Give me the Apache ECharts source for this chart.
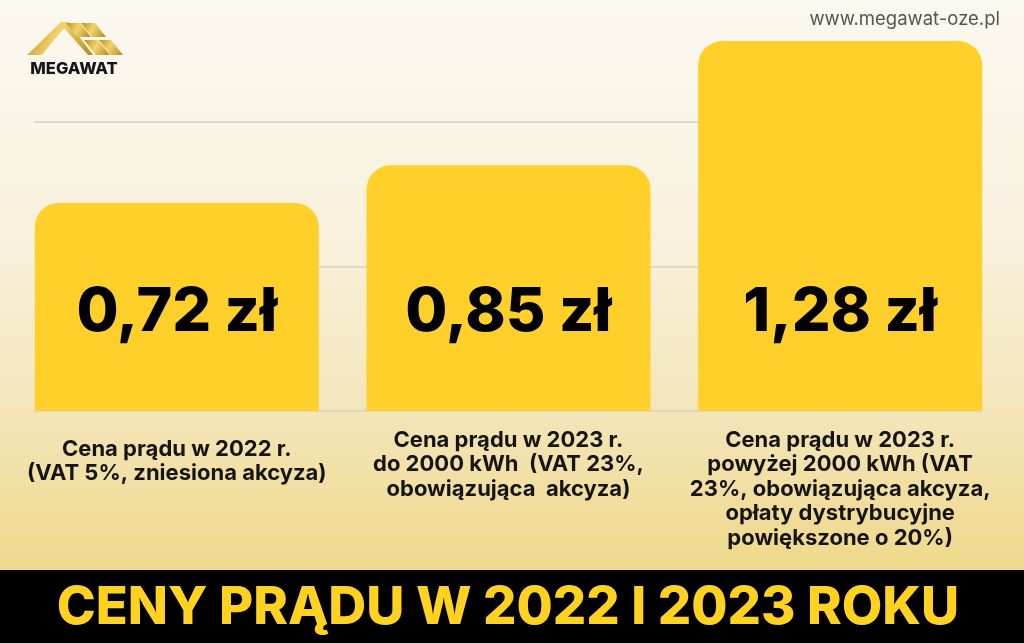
<!DOCTYPE html>
<html>
<head>
<meta charset="utf-8">
<script src="https://cdn.jsdelivr.net/npm/echarts@6/dist/echarts.min.js"></script>
<style>html,body{margin:0;padding:0;}#c{width:1024px;height:643px;}</style>
</head>
<body>
<div id="c"></div>
<script>
const categories = [
  'Cena prądu w 2022 r.\n(VAT 5%, zniesiona akcyza)',
  'Cena prądu w 2023 r.\ndo 2000 kWh  (VAT 23%,\nobowiązująca  akcyza)',
  'Cena prądu w 2023 r.\npowyżej 2000 kWh (VAT\n23%, obowiązująca akcyza,\nopłaty dystrybucyjne\npowiększone o 20%)'
];
const prices = [0.72, 0.85, 1.28];
const yTicks = [0, 0.5, 1.0];
const title = 'CENY PRĄDU W 2022 I 2023 ROKU';
const website = 'www.megawat-oze.pl';
const brand = 'MEGAWAT';

const chart = echarts.init(document.getElementById('c'), null, {renderer: 'canvas'});
const gold = new echarts.graphic.LinearGradient(0, 0, 1, 1, [
  {offset: 0, color: '#b8901c'}, {offset: 0.45, color: '#f2d46e'}, {offset: 1, color: '#b38a1a'}
]);
const yMax = 1.4;
const gTop = 411 - yMax * 289;
const lab = {fontFamily: 'Inter', fontWeight: 700, fontSize: 22, lineHeight: 24.5, color: '#151515'};
chart.setOption({
  backgroundColor: new echarts.graphic.LinearGradient(0, 0, 0, 1, [
    {offset: 0, color: '#fbf8f0'},
    {offset: 0.35, color: '#f8f1dd'},
    {offset: 0.6, color: '#f4e7c0'},
    {offset: 0.88, color: '#efd98c'},
    {offset: 1, color: '#efd68a'}
  ]),
  animation: false,
  grid: [
    {left: 11, right: 18, top: gTop, bottom: 232},
    {left: 34, right: 42, top: gTop, bottom: 232}
  ],
  xAxis: [
    {type: 'category', gridIndex: 0, data: categories,
     axisLine: {show: false}, axisTick: {show: false},
     axisLabel: Object.assign({
       interval: 0, margin: 17, verticalAlign: 'top',
       formatter: function (v, i) {
         const body = v.split('\n').map(function (l) { return '{a|' + l + '}'; }).join('\n');
         return i === 0 ? '{s| }\n' + body : body;
       },
       rich: {
         a: Object.assign({}, lab),
         s: {fontSize: 2, lineHeight: 9}
       }
     }, lab)},
    {type: 'value', gridIndex: 1, min: 0, max: 1, show: false}
  ],
  yAxis: [
    {type: 'value', gridIndex: 0, min: 0, max: yMax, interval: 0.5, show: false},
    {type: 'value', gridIndex: 1, min: 0, max: yMax, interval: 0.5,
     axisLine: {show: false}, axisTick: {show: false}, axisLabel: {show: false},
     splitLine: {show: true, showMaxLine: false, lineStyle: {color: '#d6d0c2', width: 1.5}}}
  ],
  series: [{
    type: 'bar', xAxisIndex: 0, yAxisIndex: 0, data: prices, barWidth: 284, z: 5,
    itemStyle: {color: '#ffd02a', borderRadius: [24, 24, 0, 0]},
    label: {
      show: true, position: 'insideBottom', distance: 67,
      formatter: function (p) { return p.value.toFixed(2).replace('.', ',') + ' zł'; },
      fontFamily: 'Inter', fontWeight: 800, fontSize: 61, lineHeight: 62, color: '#000'
    }
  }],
  graphic: [
    {type: 'rect', shape: {x: 0, y: 570, width: 1024, height: 73}, style: {fill: '#000'}, z: 10},
    {type: 'text', x: 508, y: 608, z: 11, style: {text: title, fill: '#ffd21f', font: '800 52.5px Inter', textAlign: 'center', textVerticalAlign: 'middle'}},
    {type: 'text', x: 1000, y: 19, z: 11, style: {text: website, fill: '#555', font: '400 18.5px Inter', textAlign: 'right', textVerticalAlign: 'middle'}},
    {type: 'text', x: 74, y: 69, z: 11, style: {text: brand, fill: '#161616', font: '800 16.5px Inter', textAlign: 'center', textVerticalAlign: 'middle'}},
    {type: 'polygon', z: 11, shape: {points: [[27,55],[61,22],[68,22],[93,55],[88,55],[64,28],[42,55]]}, style: {fill: gold}},
    {type: 'polygon', z: 11, shape: {points: [[66,23],[80,23],[91,37],[77,37]]}, style: {fill: gold}},
    {type: 'polygon', z: 11, shape: {points: [[81,23],[95,23],[106,37],[92,37]]}, style: {fill: gold}},
    {type: 'polygon', z: 11, shape: {points: [[84,40],[98,40],[110,55],[96,55]]}, style: {fill: gold}},
    {type: 'polygon', z: 11, shape: {points: [[99,40],[111,40],[123,55],[111,55]]}, style: {fill: gold}}
  ]
});
</script>
</body>
</html>
